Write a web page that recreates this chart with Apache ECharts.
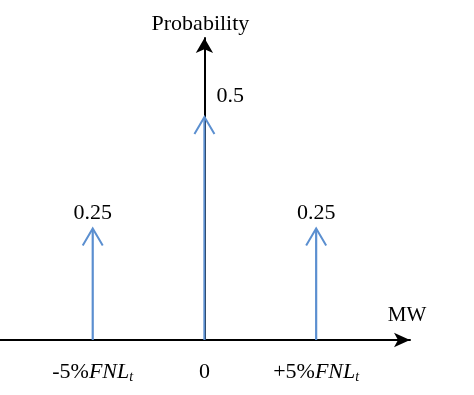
<!DOCTYPE html>
<html>
<head>
<meta charset="utf-8">
<script src="https://cdn.jsdelivr.net/npm/echarts@6/dist/echarts.min.js"></script>
<style>
  html, body { margin: 0; padding: 0; background: #fff; }
  #chart { width: 474px; height: 395px; }
</style>
</head>
<body>
<div id="chart"></div>
<script>
// data
const xPositions = [-1, 0, 1];
const tickLabels = ['-5%FNL_t', '0', '+5%FNL_t'];
const probabilities = [0.25, 0.5, 0.25];

const FONT = '"Liberation Serif", "Times New Roman", serif';
const BLUE = '#5b8fd0';

const chart = echarts.init(document.getElementById('chart'));

chart.setOption({
  animation: false,
  grid: { left: 0, right: 64, top: 38, bottom: 55 },
  xAxis: {
    type: 'value',
    min: -1.83,
    max: 1.84,
    name: 'MW',
    nameLocation: 'end',
    nameGap: -3,
    nameTextStyle: { fontFamily: FONT, fontSize: 21, color: '#000', align: 'center', verticalAlign: 'bottom', padding: [0, 0, 14, 0] },
    axisLine: { lineStyle: { color: '#000', width: 2 }, symbol: ['none', 'arrow'], symbolSize: [11, 16] },
    axisTick: { show: false },
    splitLine: { show: false },
    axisLabel: {
      customValues: xPositions,
      margin: 21,
      fontFamily: FONT,
      fontSize: 22,
      color: '#000',
      formatter: v => {
        const s = tickLabels[xPositions.indexOf(v)] || '';
        return s.replace(/FNL_(\w)/, '{i|FNL}{s|$1}');
      },
      rich: {
        i: { fontFamily: FONT, fontSize: 22, fontStyle: 'italic', color: '#000' },
        s: { fontFamily: FONT, fontSize: 14, fontStyle: 'italic', color: '#000', verticalAlign: 'bottom', padding: [9, 0, 0, 0] }
      }
    }
  },
  yAxis: {
    type: 'value',
    min: 0,
    max: 0.677,
    name: 'Probability',
    nameLocation: 'end',
    nameGap: 3,
    nameTextStyle: { fontFamily: FONT, fontSize: 22, color: '#000', padding: [0, 8, 0, 0] },
    axisLine: { lineStyle: { color: '#000', width: 2 }, symbol: ['none', 'arrow'], symbolSize: [13, 15] },
    axisTick: { show: false },
    axisLabel: { show: false },
    splitLine: { show: false }
  },
  series: [{
    type: 'custom',
    data: xPositions.map((x, i) => [x, probabilities[i]]),
    renderItem(params, api) {
      const x = api.value(0), p = api.value(1);
      const base = api.coord([x, 0]);
      const top = api.coord([x, p]);
      const center = x === 0;
      return {
        type: 'group',
        children: [
          { type: 'line', shape: { x1: base[0], y1: base[1], x2: top[0], y2: top[1] + 1 }, style: { stroke: BLUE, lineWidth: 2.2 } },
          { type: 'polyline', shape: { points: [[top[0] - 10, top[1] + 17], [top[0], top[1]], [top[0] + 10, top[1] + 17]] }, style: { stroke: BLUE, fill: null, lineWidth: 2 } },
          {
            type: 'text',
            x: center ? top[0] + 12 : top[0],
            y: center ? top[1] - 21 : top[1] - 15,
            style: {
              text: String(p),
              font: '22px ' + FONT,
              fill: '#000',
              align: center ? 'left' : 'center',
              verticalAlign: 'middle'
            }
          }
        ]
      };
    }
  }]
});
</script>
</body>
</html>
